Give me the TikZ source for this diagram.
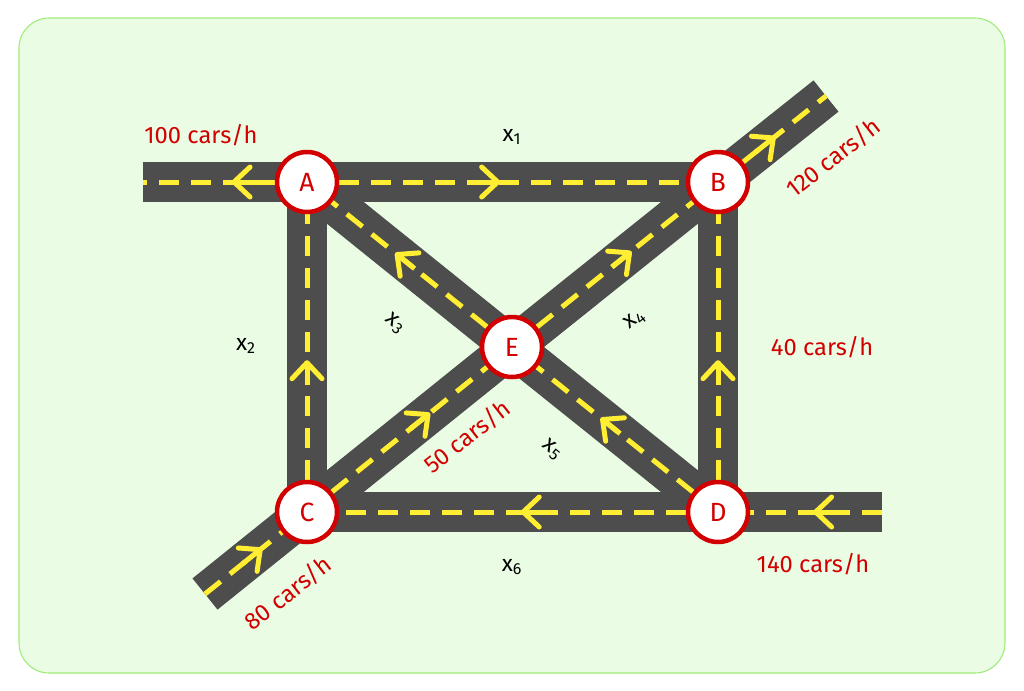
\documentclass[tikz,border=0pt]{standalone}
\usepackage{fontspec}
\setmainfont{Fira Sans}
\usetikzlibrary{arrows.meta,calc}
\definecolor{bgg}{RGB}{234,252,228}
\definecolor{bgb}{RGB}{160,235,120}
\definecolor{road}{RGB}{77,77,77}
\definecolor{lane}{RGB}{255,238,50}
\definecolor{redc}{RGB}{210,0,0}
\tikzset{
  x=0.02cm,y=-0.02cm,
  roadline/.style={draw=road,line width=0.8cm},
  lanebase/.style={draw=lane,line width=0.1cm,dash pattern=on 0.4cm off 0.24cm},
  chev/.style={draw=lane,line width=0.1cm,-{Straight Barb[length=0.32cm,width=0.6cm,line cap=round,round]}},
  junction/.style={circle,draw=redc,fill=white,line width=0.09cm,minimum size=1.2cm,inner sep=0pt,text=redc,font=\fontsize{15}{15}\selectfont},
  flow/.style={text=redc,font=\fontsize{13.5}{14}\selectfont},
  var/.style={text=black,font=\fontsize{13}{14}\selectfont}
}
\begin{document}
\begin{tikzpicture}
\useasboundingbox (0,0) rectangle (1024,690);
\draw[draw=bgb,fill=bgg,line width=0.6pt,rounded corners=0.6cm] (19,18) rectangle (1005,673);
\coordinate (A) at (307,182);
\coordinate (B) at (718,182);
\coordinate (C) at (307,512);
\coordinate (D) at (718,512);
\coordinate (E) at (512,347);
\coordinate (L) at (143,182);
\coordinate (R) at (882,512);
\coordinate (Bx) at (826,96);
\coordinate (Cx) at (205,594);
\foreach \p/\q in {L/A,A/B,B/Bx,A/C,B/D,C/D,D/R,Cx/C,C/E,E/B,A/E,E/D}
  \draw[roadline] (\p) -- (\q);
\foreach \p/\q/\t in {A/L/0.46,A/B/0.47,B/Bx/0.53,D/B/0.46,R/D/0.42,D/C/0.48,C/A/0.46,Cx/C/0.56,C/E/0.6,E/B/0.58,D/E/0.57,E/A/0.57}{
  \draw[lanebase] (\p) -- (\q);
  \coordinate (tip) at ($(\p)!\t!(\q)$);
  \draw[chev] ($(tip)!0.5cm!(\p)$) -- (tip);
}
\node[junction] (nA) at (A) {A};
\node[junction] (nB) at (B) {B};
\node[junction] (nC) at (C) {C};
\node[junction] (nD) at (D) {D};
\node[junction] (nE) at (E) {E};
\node[flow] (f1) at (201,135) {100 cars/h};
\node[flow,rotate=38] (f2) at (833,158) {120 cars/h};
\node[flow] (f3) at (822,347) {40 cars/h};
\node[flow] (f4) at (813,564) {140 cars/h};
\node[flow,rotate=38] (f5) at (288,593) {80 cars/h};
\node[flow,rotate=38] (f6) at (467,437) {50 cars/h};
\node[var] (x1) at (512,137) {x\textsubscript{1}};
\node[var] (x2) at (246,346) {x\textsubscript{2}};
\node[var,rotate=-39] (x3) at (395,324) {x\textsubscript{3}};
\node[var,rotate=39] (x4) at (635,320) {x\textsubscript{4}};
\node[var,rotate=-39] (x5) at (552,450) {x\textsubscript{5}};
\node[var] (x6) at (512,567) {x\textsubscript{6}};
\end{tikzpicture}
\end{document}
